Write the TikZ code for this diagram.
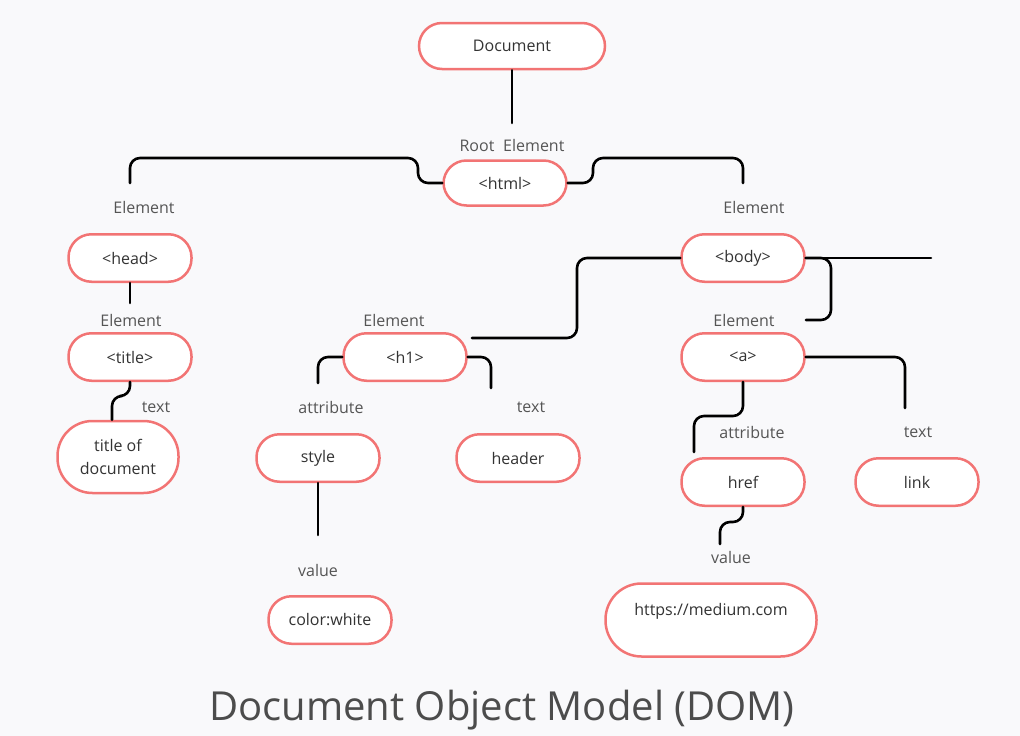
\documentclass[tikz,border=0pt]{standalone}
\usepackage{fontspec}
\setmainfont{Open Sans}
\usetikzlibrary{positioning}
\definecolor{pinkline}{HTML}{F27474}
\definecolor{bgpage}{HTML}{F9F9FB}
\definecolor{labgray}{HTML}{555555}
\definecolor{inkgray}{HTML}{333333}

\begin{document}
\begin{tikzpicture}[x=1pt, y=-1pt,
  font=\fontsize{16}{20}\selectfont,
  dnode/.style={draw=pinkline, line width=2.5pt, fill=white, rounded corners=23pt,
    minimum width=123pt, minimum height=47.5pt, text=inkgray},
  tag/.style={text=labgray, inner sep=1pt},
  link/.style={line width=2.6pt, rounded corners=10pt, line cap=round}]
  % page
  \fill[bgpage] (0,0) rectangle (1020,736);
  \useasboundingbox (0,0) rectangle (1020,736);

  % nodes
  \node[dnode, minimum width=186pt, minimum height=46pt] (doc) at (512,46) {Document};
  \node[dnode, minimum height=45pt] (html) at (505,183) {<html>};
  \node[dnode] (head) at (130,258) {<head>};
  \node[dnode] (title) at (130,357) {<title>};
  \node[dnode, minimum width=121pt, minimum height=72pt, rounded corners=35pt, align=center,
    font=\fontsize{16}{23}\selectfont] (ttext) at (118,457) {title of\\document};
  \node[dnode] (h1) at (405,357) {<h1>};
  \node[dnode] (style) at (318,458) {style};
  \node[dnode] (header) at (518,458) {header};
  \node[dnode] (colorw) at (330,620) {color:white};
  \node[dnode] (body) at (743,258) {<body>};
  \node[dnode] (anode) at (743,357) {<a>};
  \node[dnode] (href) at (743,482) {href};
  \node[dnode] (linktxt) at (917,482) {link};
  \node[dnode, minimum width=211pt, minimum height=73pt, rounded corners=36pt, align=center,
    font=\fontsize{16}{22}\selectfont] (url) at (711,620) {https://medium.com\\\mbox{}};

  % labels
  \node[tag] (lroot) at (512,145) {Root\hspace{0.55em}Element};
  \node[tag] (lhead) at (144,207) {Element};
  \node[tag] (ltitle) at (131,320) {Element};
  \node[tag] (lttext) at (156,407) {text};
  \node[tag] (lh1) at (394,320) {Element};
  \node[tag] (lstyle) at (331,407) {attribute};
  \node[tag] (lheader) at (531,407) {text};
  \node[tag] (lcolor) at (318,570) {value};
  \node[tag] (lbody) at (754,207) {Element};
  \node[tag] (la) at (744,320) {Element};
  \node[tag] (lhref) at (752,432) {attribute};
  \node[tag] (llink) at (918,432) {text};
  \node[tag] (lurl) at (731,557) {value};
  \node[text=black!70, font=\fontsize{40}{48}\selectfont] (dom) at (502,710) {Document Object Model (DOM)};

  % free ends
  \coordinate (rootend) at (512,123);
  \coordinate (headend) at (130,183);
  \coordinate (bodyend) at (743,183);
  \coordinate (titlein) at (130,303);
  \coordinate (h1in) at (472,338);
  \coordinate (stylein) at (318,383);
  \coordinate (headerin) at (491,388);
  \coordinate (colorin) at (318,535);
  \coordinate (bodyout) at (931,258);
  \coordinate (aelem) at (806,320);
  \coordinate (linkin) at (905,408);
  \coordinate (hrefin) at (694,452);
  \coordinate (urlin) at (720,544);

  % connectors
  \draw[link] (doc.south) -- (rootend);
  \draw[link] (html.west) -- (418,183) -- (418,158) -| (headend);
  \draw[link] (html.east) -- (593,183) -- (593,158) -| (bodyend);
  \draw[link] (head.south) -- (titlein);
  \draw[link] (title.south) -- ++(0,14) -| ([xshift=-6pt]ttext.north);
  \draw[link] (body.west) -| (577,338) -- (h1in);
  \draw[link] (h1.west) -| (stylein);
  \draw[link] (h1.east) -| (headerin);
  \draw[link] (style.south) -- (colorin);
  \draw[link] (body.east) -- (bodyout);
  \draw[link] (body.east) -| (831,320) -- (aelem);
  \draw[link] (anode.east) -| (linkin);
  \draw[link] (anode.south) -- (743,416) -| (hrefin);
  \draw[link] (href.south) -- (743,522) -| (urlin);
\end{tikzpicture}
\end{document}
